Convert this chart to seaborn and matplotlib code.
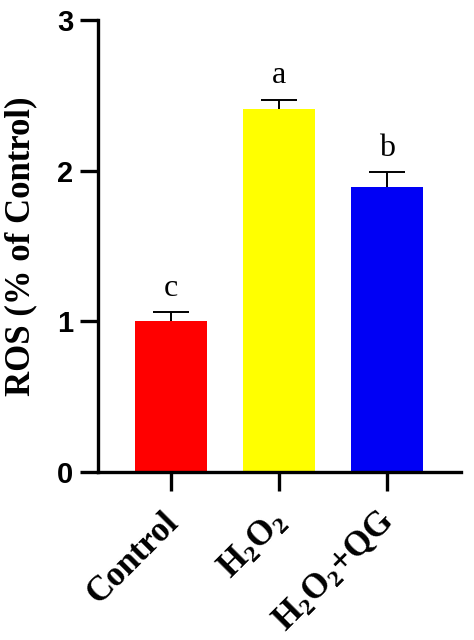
import numpy as np
import pandas as pd
import matplotlib
matplotlib.use("Agg")
import matplotlib.pyplot as plt
import matplotlib.transforms as mtrans
import seaborn as sns

# data
groups = ["Control", "H$_2$O$_2$", "H$_2$O$_2$+QG"]
ros_mean = [1.00, 2.41, 1.89]
ros_sem = [0.06, 0.06, 0.10]
letters = ["c", "a", "b"]
bar_colors = ["#FF0000", "#FFFF00", "#0000F5"]

df = pd.DataFrame({"group": groups, "ros": ros_mean})

sns.set_theme(style="ticks")
plt.rcParams["mathtext.default"] = "regular"
plt.rcParams["text.color"] = "black"

fig = plt.figure(figsize=(4.74, 6.4), dpi=100)
ax = fig.add_axes([0.2068, 0.2625, 0.9726 - 0.2068, 0.96875 - 0.2625])

sns.barplot(data=df, x="group", y="ros", hue="group", palette=bar_colors,
            saturation=1, width=0.667, errorbar=None, legend=False,
            linewidth=0, ax=ax)

# one-sided (upper) error bars
xpos = np.arange(len(groups))
tops = np.array(ros_mean) + np.array(ros_sem)
ax.vlines(xpos, ros_mean, tops, color="black", linewidth=1.4, zorder=3)
ax.hlines(tops, xpos - 0.165, xpos + 0.165, color="black", linewidth=1.4, zorder=3)

# significance letters
for x, top, t in zip(xpos, tops, letters):
    ax.annotate(t, (x, top), xytext=(0, 12), textcoords="offset points",
                ha="center", va="baseline", fontsize=23, color="black",
                family="Liberation Serif")

ax.set_xlim(-0.676, 2.685)
ax.set_ylim(0, 3)
ax.set_yticks([0, 1, 2, 3])

for side in ["top", "right"]:
    ax.spines[side].set_visible(False)
for side in ["left", "bottom"]:
    ax.spines[side].set_linewidth(2.4)
    ax.spines[side].set_color("black")

ax.tick_params(axis="y", length=13, width=2.4, pad=5, colors="black")
ax.tick_params(axis="x", length=14, width=2.4, pad=8, colors="black")

for lab in ax.get_yticklabels():
    lab.set_family("Liberation Sans")
    lab.set_fontweight("bold")
    lab.set_fontsize(21)

ax.set_xticks(xpos)
ax.set_xticklabels(groups, rotation=45, ha="right", rotation_mode="anchor",
                   family="Liberation Serif", fontweight="bold", fontsize=25)
# nudge the rotated labels a little left and down
offset = mtrans.ScaledTranslation(-0.09, -0.03, fig.dpi_scale_trans)
for lab in ax.get_xticklabels():
    lab.set_transform(lab.get_transform() + offset)

ax.set_xlabel("")
ax.set_ylabel("ROS (% of Control)", family="Liberation Serif",
              fontweight="bold", fontsize=25, labelpad=14, color="black")

fig.savefig("out.png", dpi=100)
